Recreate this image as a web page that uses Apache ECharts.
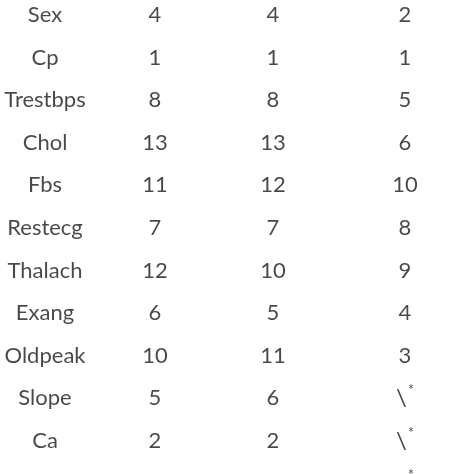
<!DOCTYPE html>
<html>
<head>
<meta charset="utf-8">
<script src="https://cdn.jsdelivr.net/npm/echarts@6/dist/echarts.min.js"></script>
<style>html,body{margin:0;padding:0;background:#fff}#chart{width:474px;height:474px}</style>
</head>
<body>
<div id="chart"></div>
<script>
// table rows (last row is cut off at the bottom of the picture)
var features = ['Sex', 'Cp', 'Trestbps', 'Chol', 'Fbs', 'Restecg', 'Thalach', 'Exang', 'Oldpeak', 'Slope', 'Ca', ''];
var colA = ['4', '1', '8', '13', '11', '7', '12', '6', '10', '5', '2', ''];
var colB = ['4', '1', '8', '13', '12', '7', '10', '5', '11', '6', '2', ''];
var colC = ['2', '1', '5', '6', '10', '8', '9', '4', '3', '\\*', '\\*', '\\*'];

var colX = [45, 155, 273, 405];
var columns = [features, colA, colB, colC];

var myChart = echarts.init(document.getElementById('chart'));

var points = [];
columns.forEach(function (col, c) {
    col.forEach(function (txt, r) {
        points.push({ value: [colX[c], r], text: txt });
    });
});

myChart.setOption({
    animation: false,
    grid: { left: 0, right: 0, top: 0, bottom: 0 },
    xAxis: { type: 'value', min: 0, max: 474, show: false },
    yAxis: { type: 'value', inverse: true, min: -0.352, max: 10.775, show: false },
    series: [{
        type: 'scatter',
        symbolSize: 0,
        clip: false,
        data: points,
        label: {
            show: true,
            position: 'inside',
            color: '#1a1a1a',
            fontFamily: 'Lato',
            fontSize: 22,
            formatter: function (p) {
                var t = p.data.text;
                if (t === '\\*') return '{b|\\}{s|*}';
                return t;
            },
            rich: {
                b: { fontSize: 24, fontFamily: 'Lato', color: '#1a1a1a' },
                s: { fontSize: 15, fontFamily: 'Lato', color: '#1a1a1a', padding: [0, 0, 16, 1] }
            }
        }
    }]
});
</script>
</body>
</html>
